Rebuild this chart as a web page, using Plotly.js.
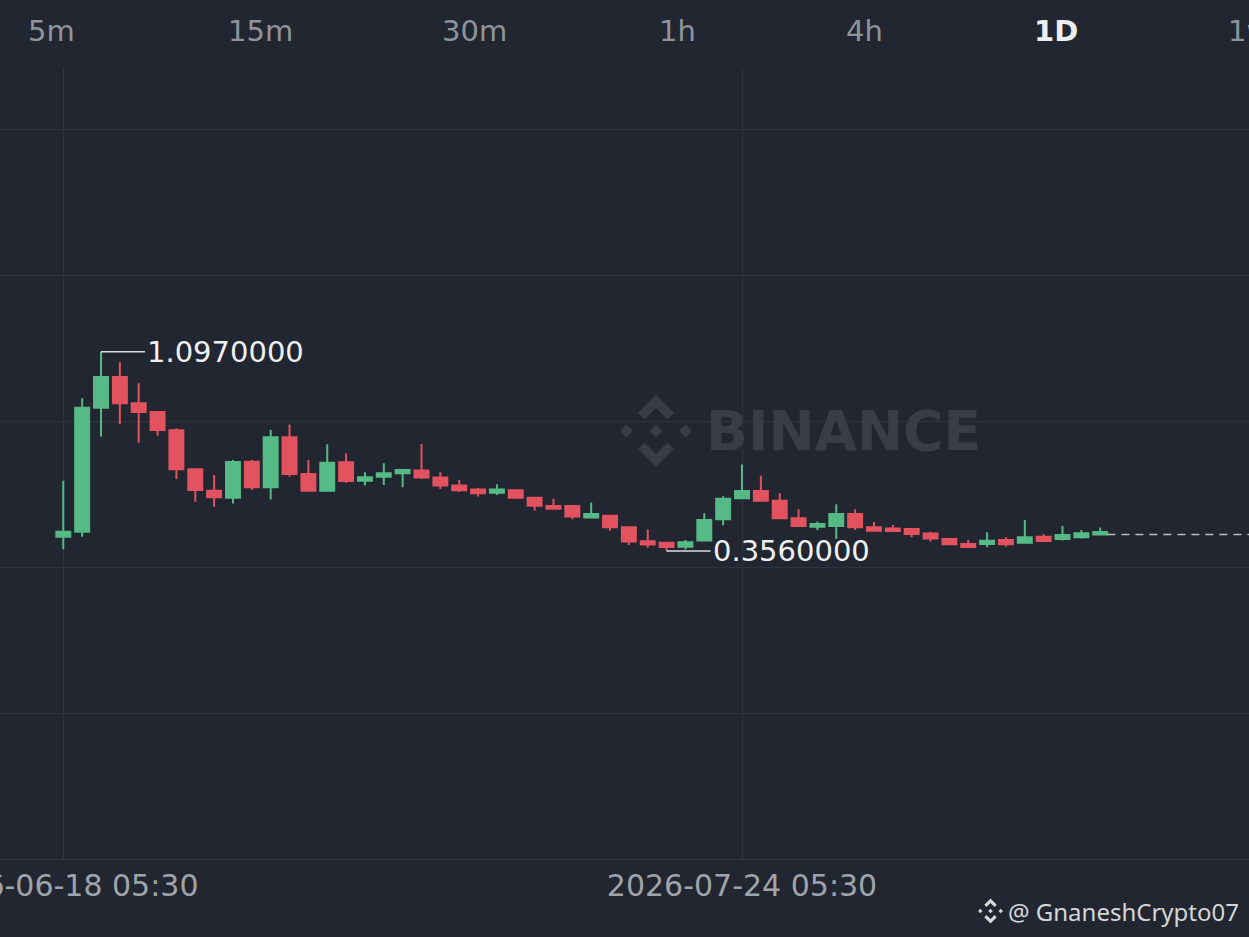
<!DOCTYPE html>
<html>
<head>
<meta charset="utf-8">
<script src="https://cdn.plot.ly/plotly-3.0.1.min.js"></script>
<style>
  html, body { margin: 0; padding: 0; background: #222630; }
  #chart { width: 1249px; height: 937px; }
</style>
</head>
<body>
<div id="chart"></div>
<script>
// ---- data (daily candles) ----
var firstDay = '2026-06-18 05:30';
var openVals  = [0.409,0.428,0.889,1.003,0.905,0.873,0.805,0.660,0.580,0.554,0.688,0.593,0.779,0.642,0.580,0.686,0.617,0.632,0.645,0.655,0.629,0.600,0.585,0.573,0.582,0.554,0.523,0.523,0.481,0.487,0.444,0.392,0.387,0.372,0.395,0.474,0.552,0.579,0.543,0.478,0.446,0.449,0.494,0.444,0.440,0.438,0.421,0.401,0.382,0.382,0.397,0.387,0.409,0.401,0.407,0.417];
var highVals  = [0.617,0.924,1.097,1.058,0.980,0.876,0.812,0.661,0.639,0.694,0.694,0.806,0.826,0.694,0.753,0.719,0.649,0.682,0.660,0.754,0.649,0.620,0.590,0.604,0.585,0.558,0.550,0.526,0.536,0.490,0.446,0.436,0.388,0.397,0.496,0.560,0.678,0.636,0.571,0.511,0.466,0.530,0.511,0.464,0.453,0.440,0.427,0.402,0.397,0.426,0.407,0.471,0.419,0.449,0.434,0.443];
var lowVals   = [0.363,0.409,0.781,0.827,0.759,0.785,0.624,0.539,0.521,0.533,0.583,0.548,0.632,0.578,0.576,0.610,0.600,0.601,0.593,0.624,0.587,0.575,0.559,0.564,0.553,0.506,0.512,0.474,0.480,0.431,0.378,0.368,0.356,0.362,0.394,0.452,0.551,0.539,0.475,0.446,0.434,0.401,0.434,0.428,0.428,0.407,0.391,0.380,0.370,0.370,0.372,0.386,0.391,0.395,0.403,0.416];
var closeVals = [0.428,0.889,1.003,0.905,0.873,0.806,0.660,0.583,0.556,0.687,0.593,0.779,0.642,0.580,0.684,0.616,0.630,0.645,0.657,0.629,0.600,0.582,0.571,0.585,0.554,0.524,0.513,0.484,0.494,0.444,0.391,0.380,0.371,0.389,0.471,0.550,0.579,0.543,0.478,0.449,0.456,0.494,0.444,0.431,0.430,0.419,0.403,0.381,0.371,0.394,0.381,0.407,0.393,0.416,0.422,0.427];
var lastPrice = 0.417;
var dateTickVals = ['2026-06-18 05:30', '2026-07-24 05:30'];
var dateTickText = ['2026-06-18 05:30', '2026-07-24 05:30'];
var intervalTabs = ['5m', '15m', '30m', '1h', '4h', '1D', '1w'];
var activeTab = '1D';
var gridPrices = [1.9213, 1.3785, 0.8393, 0.2965, -0.2464];

// consecutive daily timestamps for the candles
var DAY = 86400000;
var t0 = Date.UTC(2026, 5, 18, 5, 30);
function fmt(ms) { return new Date(ms).toISOString().slice(0, 16).replace('T', ' '); }
var dates = [];
for (var i = 0; i < openVals.length; i++) dates.push(fmt(t0 + i * DAY));

var GREEN = '#56ba86', RED = '#e2535f';
var BG = '#222630', GRID = '#30343e';

var trace = {
  type: 'candlestick',
  x: dates, open: openVals, high: highVals, low: lowVals, close: closeVals,
  increasing: { line: { color: GREEN, width: 2 }, fillcolor: GREEN },
  decreasing: { line: { color: RED, width: 2 }, fillcolor: RED },
  whiskerwidth: 0,
  hoverinfo: 'skip',
  showlegend: false
};

// extremes
var hiIdx = 0, loIdx = 0;
for (var j = 0; j < highVals.length; j++) {
  if (highVals[j] > highVals[hiIdx]) hiIdx = j;
  if (lowVals[j] < lowVals[loIdx]) loIdx = j;
}

// Binance logo path, pixel units around an anchor
function logoPath(R) {
  function pt(x, y) { return (x * R).toFixed(2) + ',' + (y * R).toFixed(2); }
  function poly(arr) { return 'M' + arr.map(function (p) { return pt(p[0], p[1]); }).join('L') + 'Z'; }
  var d = 0.18;
  return [
    poly([[0, 1], [0.5, 0.5], [0.32, 0.32], [0, 0.64], [-0.32, 0.32], [-0.5, 0.5]]),
    poly([[0, -1], [0.5, -0.5], [0.32, -0.32], [0, -0.64], [-0.32, -0.32], [-0.5, -0.5]]),
    poly([[0, d], [d, 0], [0, -d], [-d, 0]]),
    poly([[-0.82, d], [-0.82 + d, 0], [-0.82, -d], [-0.82 - d, 0]]),
    poly([[0.82, d], [0.82 + d, 0], [0.82, -d], [0.82 - d, 0]])
  ].join(' ');
}

var W = 1249, TOP = 67, BOT = 859;
function px(x) { return x / W; }
function py(y) { return (BOT - y) / (BOT - TOP); }

var xEnd = '2026-08-20 02:55';
var shapes = [
  { type: 'path', xref: 'paper', yref: 'paper', xsizemode: 'pixel', ysizemode: 'pixel',
    xanchor: px(656), yanchor: py(431), path: logoPath(36),
    fillcolor: '#393d47', line: { width: 0 }, layer: 'below' },
  { type: 'path', xref: 'paper', yref: 'paper', xsizemode: 'pixel', ysizemode: 'pixel',
    xanchor: px(990.5), yanchor: py(911), path: logoPath(12.5),
    fillcolor: '#d4d6da', line: { width: 0 } },
  { type: 'line', xref: 'x', yref: 'y',
    x0: fmt(t0 + (dates.length - 1 + 0.38) * DAY), x1: xEnd,
    y0: lastPrice, y1: lastPrice,
    line: { color: '#b9bdc5', width: 1.5, dash: '8px,6px' } }
];

var tabX = [51, 260, 474, 677, 864, 1056, 1226];
var annotations = [];
intervalTabs.forEach(function (t, k) {
  var active = t === activeTab;
  annotations.push({
    xref: 'paper', yref: 'paper', x: px(tabX[k]), y: py(31),
    xanchor: k === intervalTabs.length - 1 ? 'left' : 'center', yanchor: 'middle',
    text: t, showarrow: false,
    font: { family: 'DejaVu Sans', size: 29, color: active ? '#eceef1' : '#8f949c', weight: active ? 'bold' : 'normal' }
  });
});
annotations.push({
  xref: 'paper', yref: 'paper', x: px(704), y: py(431), xanchor: 'left', yanchor: 'middle',
  text: 'BINANCE', showarrow: false,
  font: { family: 'DejaVu Sans', size: 55, color: '#393d47', weight: 'bold' }
});
annotations.push({
  xref: 'x', yref: 'y', x: dates[hiIdx], y: highVals[hiIdx],
  ax: 44, ay: 0, xanchor: 'left', yanchor: 'middle',
  text: highVals[hiIdx].toFixed(7), showarrow: true, arrowhead: 0, arrowwidth: 1.5,
  arrowcolor: '#d9dbe0', standoff: 0,
  font: { family: 'DejaVu Sans', size: 29, color: '#eef0f3' }
});
annotations.push({
  xref: 'x', yref: 'y', x: dates[loIdx], y: lowVals[loIdx],
  ax: 44, ay: 0, xanchor: 'left', yanchor: 'middle',
  text: lowVals[loIdx].toFixed(7), showarrow: true, arrowhead: 0, arrowwidth: 1.5,
  arrowcolor: '#d9dbe0', standoff: 0,
  font: { family: 'DejaVu Sans', size: 29, color: '#eef0f3' }
});
annotations.push({
  xref: 'paper', yref: 'paper', x: px(1241), y: py(911), xanchor: 'right', yanchor: 'middle',
  text: '@ GnaneshCrypto07', showarrow: false,
  font: { family: 'Noto Sans', size: 24, color: '#d4d6da' }
});

var layout = {
  width: 1249, height: 937,
  margin: { l: 0, r: 0, t: TOP, b: 937 - BOT, pad: 0 },
  paper_bgcolor: BG, plot_bgcolor: BG,
  showlegend: false,
  hovermode: false,
  dragmode: false,
  boxgap: 0.26,
  boxgroupgap: 0,
  xaxis: {
    type: 'date',
    range: ['2026-06-14 20:55', xEnd],
    rangeslider: { visible: false },
    tickmode: 'array', tickvals: dateTickVals, ticktext: dateTickText,
    ticklabeloverflow: 'allow',
    showgrid: true, gridcolor: GRID, gridwidth: 1,
    showline: true, linecolor: GRID, linewidth: 1, mirror: false,
    zeroline: false, ticks: '', ticklen: 0,
    tickfont: { family: 'DejaVu Sans', size: 30, color: '#9fa3aa' }
  },
  yaxis: {
    range: [-0.789, 2.1555],
    tickmode: 'array', tickvals: gridPrices,
    showticklabels: false, showgrid: true, gridcolor: GRID, gridwidth: 1,
    zeroline: false, showline: false, ticks: ''
  },
  shapes: shapes,
  annotations: annotations
};

Plotly.newPlot('chart', [trace], layout, { staticPlot: true, displayModeBar: false });
</script>
</body>
</html>
